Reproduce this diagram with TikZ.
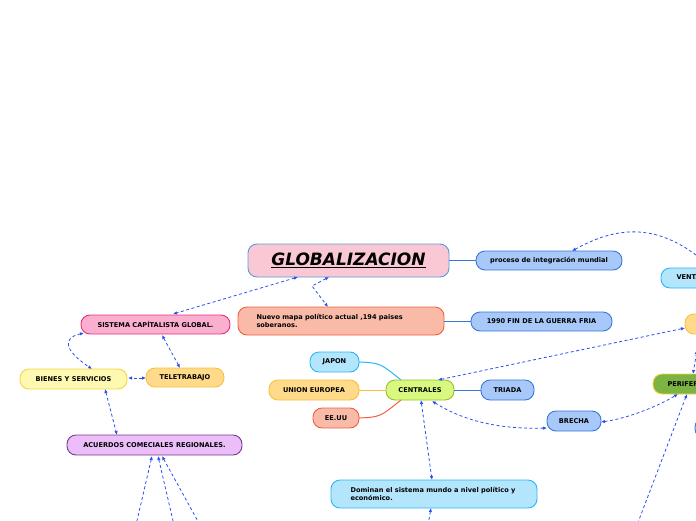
\documentclass[tikz,border=0pt]{standalone}
\usepackage{fontspec}
\setmainfont{DejaVu Sans}
\usetikzlibrary{arrows.meta}
\definecolor{bl}{HTML}{A7C8F9}\definecolor{blb}{HTML}{3A78D8}
\definecolor{pk}{HTML}{F9C8D4}\definecolor{sal}{HTML}{F9BBA8}\definecolor{salb}{HTML}{F06040}
\definecolor{mag}{HTML}{FBAFD0}\definecolor{magb}{HTML}{E8307A}
\definecolor{yl}{HTML}{FFF8B0}\definecolor{ylb}{HTML}{F0D840}
\definecolor{or}{HTML}{FFDA8A}\definecolor{orb}{HTML}{F8C040}
\definecolor{pu}{HTML}{EBBEFA}\definecolor{pub}{HTML}{7A3A8A}
\definecolor{cy}{HTML}{B3E5FC}\definecolor{cyb}{HTML}{29B6F6}
\definecolor{lg}{HTML}{D8F880}\definecolor{lgb}{HTML}{9AC030}
\definecolor{gr}{HTML}{7CB342}\definecolor{dshc}{HTML}{2850F0}
\definecolor{gb}{HTML}{5B9BD5}
\tikzset{
 box/.style={rounded corners=9pt,line width=0.9pt,inner sep=0pt},
 da/.style={draw=dshc,line width=0.8pt,dash pattern=on 3pt off 2.5pt,{Latex[length=4pt,width=3.5pt]}-{Latex[length=4pt,width=3.5pt]}},
 dae/.style={draw=dshc,line width=0.8pt,dash pattern=on 3pt off 2.5pt,{Latex[length=4pt,width=3.5pt]}-},
 sl/.style={line width=1pt},
 lbl/.style={font=\bfseries\fontsize{6.6}{7.6}\selectfont}
}
\begin{document}
\begin{tikzpicture}[x=1pt,y=-1pt]
\useasboundingbox (0,0) rectangle (696,520);
\clip (0,0) rectangle (696,520);
\newcommand\bx[7]{\draw[box,fill=#6,draw=#7] (#2,#3) rectangle (#4,#5); \coordinate (#1) at ({(#2+#4)/2},{(#3+#5)/2});}
\bx{glob}{248}{244}{449}{277}{pk}{gb}
\node[font=\bfseries\itshape\fontsize{17}{19}\selectfont] (globt) at (glob) {\underline{GLOBALIZACION}};
\bx{proc}{476}{251}{622}{270}{bl}{blb}
\node[lbl] (proct) at (proc) {proceso de integración mundial};
\bx{nuevo}{238}{307}{444}{335}{sal}{salb}
\node[lbl,anchor=west,align=left] (nuevot) at (253,321) {Nuevo mapa político actual ,194 paises\\soberanos.};
\bx{fin}{471}{312}{612}{331}{bl}{blb}
\node[lbl] (fint) at (fin) {1990 FIN DE LA GUERRA FRIA};
\bx{sis}{81}{315}{230}{334}{mag}{magb}
\node[lbl] (sist) at (sis) {SISTEMA CAPÍTALISTA GLOBAL.};
\bx{bie}{20}{369}{127}{389}{yl}{ylb}
\node[lbl] (biet) at (bie) {BIENES Y SERVICIOS};
\bx{tele}{146}{368}{224}{387}{or}{orb}
\node[lbl] (telet) at (tele) {TELETRABAJO};
\bx{acu}{67}{435}{242}{455}{pu}{pub}
\node[lbl] (acut) at (acu) {ACUERDOS COMECIALES REGIONALES.};
\bx{jap}{310}{352}{359}{372}{cy}{cyb}
\node[lbl] (japt) at (jap) {JAPON};
\bx{ue}{269}{380}{359}{400}{or}{orb}
\node[lbl] (uet) at (ue) {UNION EUROPEA};
\bx{eu}{313}{408}{359}{428}{sal}{salb}
\node[lbl] (eut) at (eu) {EE.UU};
\bx{cen}{386}{380}{454}{400}{lg}{lgb}
\node[lbl] (cent) at (cen) {CENTRALES};
\bx{tri}{481}{380}{534}{400}{bl}{blb}
\node[lbl] (trit) at (tri) {TRIADA};
\bx{bre}{547}{411}{601}{431}{bl}{blb}
\node[lbl] (bret) at (bre) {BRECHA};
\bx{dom}{331}{480}{537}{508}{cy}{cyb}
\node[lbl,anchor=west,align=left] (domt) at (347,494) {Dominan el sistema mundo a nivel político y\\económico.};
\bx{ven}{661}{268}{760}{288}{cy}{cyb}
\node[lbl,anchor=west] (vent) at (673,278) {VENTAJAS};
\bx{yel}{685}{314}{760}{334}{or}{orb}
\bx{per}{653}{374}{760}{394}{gr}{ylb}
\node[lbl,anchor=west] (pert) at (664,384) {PERIFERIA};
\bx{blu}{695}{418}{760}{438}{bl}{blb}
% solid
\draw[sl,blb] (449,260.5) -- (476,260.5);
\draw[sl,blb] (444,321.5) -- (471,321.5);
\draw[sl,blb] (454,390) -- (481,390);
\draw[sl,cyb] (359,362) .. controls (380,363) .. (401,380);
\draw[sl,orb] (359,390) -- (386,390);
\draw[sl,salb] (359,418) .. controls (380,417) .. (401,400);
% dashed
\draw[da] (298,277) -- (173,314);
\draw[da] (329,277) -- (312,286) -- (328,307);
\draw[da] (84,333) .. controls (62,338) and (64,350) .. (92,369);
\draw[da] (162,335) -- (180,368);
\draw[da] (146,378) -- (128,378);
\draw[da] (105,389) -- (117,435);
\draw[dae] (152,456) -- (136,525);
\draw[dae] (158,456) -- (174,525);
\draw[dae] (162,456) -- (200,525);
\draw[dae] (431,508) -- (428,525);
\draw[da] (421,400) -- (432,480);
\draw[da] (438,380) -- (685,328);
\draw[da] (432,401) .. controls (470,425) and (510,429) .. (547,428);
\draw[da] (601,422) .. controls (630,418) and (660,405) .. (678,394);
\draw[dae] (687,394) -- (637,525);
\draw[da] (572,251) .. controls (610,230) and (650,220) .. (700,258);
\draw[da] (697,350) -- (693,374);
\end{tikzpicture}
\end{document}
